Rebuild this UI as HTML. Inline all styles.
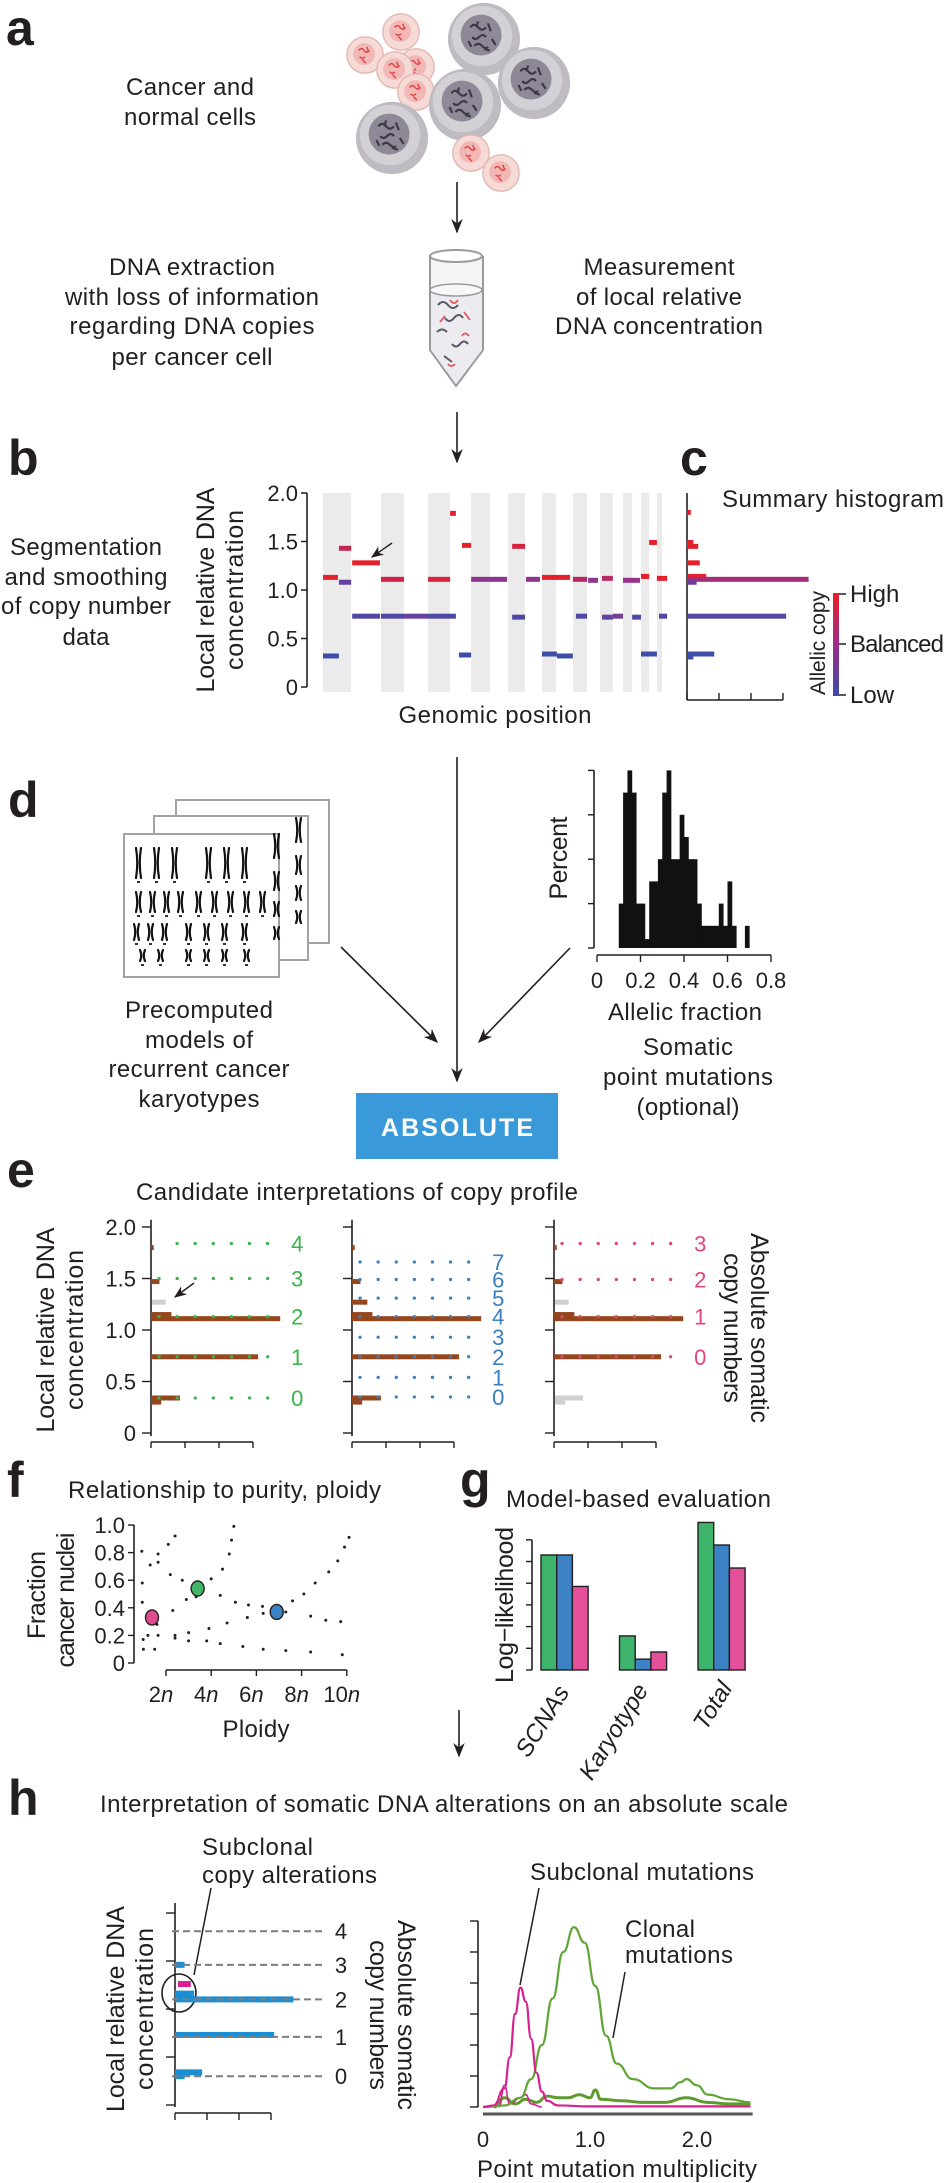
<!DOCTYPE html>
<html><head><meta charset="utf-8">
<style>
html,body{margin:0;padding:0;background:#fff;}
svg{display:block;font-family:"Liberation Sans",Arial,sans-serif;}
text{fill:#231f20;}
.t{font-size:24px;}
.tk{font-size:22px;}
.r{font-size:25px;}
.L{font-size:50px;font-weight:bold;}
</style></head>
<body>
<svg id="fig" width="946" height="2183" viewBox="0 0 946 2183" xmlns="http://www.w3.org/2000/svg">
<defs>
<marker id="ah" viewBox="0 0 10 10" refX="9" refY="5" markerWidth="9" markerHeight="9" orient="auto-start-reverse"><path d="M0,1 L10,5 L0,9 L3,5 z" fill="#231f20"/></marker>
<linearGradient id="cbar" x1="0" y1="0" x2="0" y2="1"><stop offset="0" stop-color="#e8202a"/><stop offset="0.5" stop-color="#a02a88"/><stop offset="1" stop-color="#3a4aa8"/></linearGradient>
<symbol id="bigcell" viewBox="-40 -40 80 80" overflow="visible">
<circle r="37" fill="#bfbbc3"/><circle cx="-2" cy="-3" r="31" fill="#d3d0d6"/><circle cx="-3" cy="-4" r="21" fill="#8f8997"/>
<path d="M-14,-12 q4,-5 8,0 t8,0 M-12,-2 q3,4 7,0 t7,0 M-10,7 q4,-4 8,0 t6,1 M4,-16 l3,8 M-6,-18 l-2,6 M8,0 l4,6 M-16,2 l3,6 M0,10 l6,2" stroke="#3e3846" stroke-width="2.2" fill="none"/>
</symbol>
<symbol id="smallcell" viewBox="-22 -22 44 44" overflow="visible">
<circle r="20" fill="#f6dad6" stroke="#e2b7b2" stroke-width="1.5"/><circle cx="-1" cy="-1" r="12" fill="#f2b8b5"/>
<path d="M-7,-5 q3,-4 6,0 t6,0 M-6,2 q3,3 6,0 M2,-9 l2,6 M-3,5 l4,4" stroke="#e0474c" stroke-width="1.6" fill="none"/>
</symbol>
</defs>

<!-- panel a -->
<text class="L" x="6" y="45">a</text>
<text class="t" x="190" y="95" text-anchor="middle" textLength="128">Cancer and</text>
<text class="t" x="190" y="125" text-anchor="middle" textLength="132">normal cells</text>
<g>
<use href="#smallcell" x="381" y="12" width="40" height="40"/>
<use href="#bigcell" x="445" y="0" width="78" height="78"/>
<use href="#smallcell" x="345" y="35" width="40" height="40"/>
<use href="#smallcell" x="396" y="47" width="40" height="40"/>
<use href="#smallcell" x="375" y="50" width="40" height="40"/>
<use href="#bigcell" x="495" y="44" width="78" height="78"/>
<use href="#smallcell" x="396" y="72" width="40" height="40"/>
<use href="#bigcell" x="426" y="66" width="78" height="78"/>
<use href="#bigcell" x="353" y="99" width="78" height="78"/>
<use href="#smallcell" x="451" y="133" width="40" height="40"/>
<use href="#smallcell" x="481" y="153" width="40" height="40"/>
</g>
<line x1="457" y1="182" x2="457" y2="232" stroke="#231f20" stroke-width="1.6" marker-end="url(#ah)"/>
<g>
<path d="M430,256 L430,350 L456,386 L483,350 L483,256" fill="#f4f4f5" stroke="#9a9a9e" stroke-width="2"/>
<path d="M431,290 L431,350 L456,384 L482,350 L482,290 Z" fill="#ecebef"/>
<ellipse cx="456" cy="290" rx="26" ry="6" fill="#f7f7f8" stroke="#9a9a9e" stroke-width="1.5"/>
<ellipse cx="456" cy="256" rx="26" ry="6" fill="#fff" stroke="#9a9a9e" stroke-width="2"/>
<path d="M438,305 q5,-6 10,0 t10,0 M445,318 q4,6 9,0 t9,0 M437,332 q5,-5 10,0 M452,344 q4,5 8,0 t8,0 M444,356 l8,6" stroke="#5a5566" stroke-width="2" fill="none"/>
<path d="M450,300 q4,6 8,0 M464,312 l6,8 M440,322 l5,-6 M462,336 q3,-5 7,0 M448,364 q3,4 7,0" stroke="#e25a60" stroke-width="1.8" fill="none"/>
</g>
<text class="t" x="192" y="275" text-anchor="middle" textLength="166">DNA extraction</text>
<text class="t" x="192" y="305" text-anchor="middle" textLength="254">with loss of information</text>
<text class="t" x="192" y="334" text-anchor="middle" textLength="245">regarding DNA copies</text>
<text class="t" x="192" y="365" text-anchor="middle" textLength="161">per cancer cell</text>
<text class="t" x="659" y="275" text-anchor="middle" textLength="151">Measurement</text>
<text class="t" x="659" y="305" text-anchor="middle" textLength="166">of local relative</text>
<text class="t" x="659" y="334" text-anchor="middle" textLength="208">DNA concentration</text>
<line x1="457" y1="412" x2="457" y2="462" stroke="#231f20" stroke-width="1.6" marker-end="url(#ah)"/>

<!-- panel b / c -->
<text class="L" x="8" y="475">b</text>
<text class="L" x="680" y="475">c</text>
<text class="t" x="86" y="555" text-anchor="middle" textLength="152">Segmentation</text>
<text class="t" x="86" y="585" text-anchor="middle" textLength="163">and smoothing</text>
<text class="t" x="86" y="614" text-anchor="middle" textLength="170">of copy number</text>
<text class="t" x="86" y="645" text-anchor="middle" textLength="47">data</text>
<text class="r" transform="rotate(-90 214 590)" x="214" y="590" text-anchor="middle" textLength="205">Local relative DNA</text>
<text class="r" transform="rotate(-90 243 590)" x="243" y="590" text-anchor="middle" textLength="160">concentration</text>
<text class="t" x="495" y="723" text-anchor="middle" textLength="193">Genomic position</text>
<text class="t" x="722" y="507" textLength="222">Summary histogram</text>
<g id="gb"></g>
<g id="gc"></g>
<g>
<rect x="833" y="593" width="6" height="103" fill="url(#cbar)"/>
<line x1="839" y1="594" x2="846" y2="594" stroke="#231f20" stroke-width="1.5"/>
<line x1="839" y1="644" x2="846" y2="644" stroke="#231f20" stroke-width="1.5"/>
<line x1="839" y1="695" x2="846" y2="695" stroke="#231f20" stroke-width="1.5"/>
<text class="t" x="850" y="602">High</text>
<text class="t" x="850" y="652" textLength="94">Balanced</text>
<text class="t" x="850" y="703">Low</text>
<text transform="rotate(-90 825 643)" x="825" y="643" text-anchor="middle" font-size="21" textLength="104">Allelic copy</text>
</g>

<!-- panel d -->
<line x1="457" y1="757" x2="457" y2="1081" stroke="#231f20" stroke-width="1.6" marker-end="url(#ah)"/>
<text class="L" x="8" y="817">d</text>
<g id="karyo">
<rect x="176" y="800" width="153" height="143" fill="#fff" stroke="#a3a3a3" stroke-width="2"/>
<rect x="154" y="816" width="154" height="144" fill="#fff" stroke="#a3a3a3" stroke-width="2"/>
<rect x="124" y="834" width="155" height="143" fill="#fff" stroke="#a3a3a3" stroke-width="2"/>
</g>
<text class="t" x="199" y="1018" text-anchor="middle" textLength="148">Precomputed</text>
<text class="t" x="199" y="1048" text-anchor="middle" textLength="108">models of</text>
<text class="t" x="199" y="1077" text-anchor="middle" textLength="181">recurrent cancer</text>
<text class="t" x="199" y="1107" text-anchor="middle" textLength="121">karyotypes</text>
<g id="gd"></g>
<text class="r" transform="rotate(-90 567 858)" x="567" y="858" text-anchor="middle" textLength="83">Percent</text>
<text class="t" x="685" y="1020" text-anchor="middle" textLength="154">Allelic fraction</text>
<text class="t" x="688" y="1055" text-anchor="middle" textLength="90">Somatic</text>
<text class="t" x="688" y="1085" text-anchor="middle" textLength="170">point mutations</text>
<text class="t" x="688" y="1115" text-anchor="middle" textLength="103">(optional)</text>
<line x1="341" y1="947" x2="437" y2="1042" stroke="#231f20" stroke-width="1.6" marker-end="url(#ah)"/>
<line x1="570" y1="948" x2="479" y2="1042" stroke="#231f20" stroke-width="1.6" marker-end="url(#ah)"/>
<g>
<rect x="356" y="1093" width="202" height="66" fill="#3a9ad9"/>
<text x="457" y="1136" text-anchor="middle" font-size="25" font-weight="bold" textLength="152" style="fill:#fff">ABSOLUTE</text>
</g>

<!-- panel e -->
<text class="L" x="7" y="1187">e</text>
<text class="t" x="357" y="1200" text-anchor="middle" textLength="442">Candidate interpretations of copy profile</text>
<text class="r" transform="rotate(-90 54 1330)" x="54" y="1330" text-anchor="middle" textLength="205">Local relative DNA</text>
<text class="r" transform="rotate(-90 83 1330)" x="83" y="1330" text-anchor="middle" textLength="160">concentration</text>
<text class="r" transform="rotate(90 751 1328)" x="751" y="1328" text-anchor="middle" textLength="190">Absolute somatic</text>
<text class="r" transform="rotate(90 724 1328)" x="724" y="1328" text-anchor="middle" textLength="150">copy numbers</text>
<g id="ge"></g>

<!-- panel f -->
<text class="L" x="7" y="1497">f</text>
<text class="t" x="68" y="1498" textLength="313">Relationship to purity, ploidy</text>
<text class="r" transform="rotate(-90 45 1595)" x="45" y="1595" text-anchor="middle" textLength="88">Fraction</text>
<text class="r" transform="rotate(-90 74 1600)" x="74" y="1600" text-anchor="middle" textLength="135">cancer nuclei</text>
<text class="t" x="256" y="1737" text-anchor="middle" textLength="67">Ploidy</text>
<g id="gf"></g>

<!-- panel g -->
<text class="L" x="460" y="1497">g</text>
<text class="t" x="506" y="1507" textLength="265">Model-based evaluation</text>
<text class="r" transform="rotate(-90 513 1605)" x="513" y="1605" text-anchor="middle" textLength="156">Log−likelihood</text>
<g id="gg"></g>
<line x1="459" y1="1710" x2="459" y2="1756" stroke="#231f20" stroke-width="1.6" marker-end="url(#ah)"/>

<!-- panel h -->
<text class="L" x="8" y="1815">h</text>
<text class="t" x="100" y="1812" textLength="688">Interpretation of somatic DNA alterations on an absolute scale</text>
<text class="t" x="202" y="1855" textLength="111">Subclonal</text>
<text class="t" x="202" y="1883" textLength="175">copy alterations</text>
<line x1="211" y1="1888" x2="194" y2="1975" stroke="#231f20" stroke-width="1.5"/>
<ellipse cx="179" cy="1993" rx="17" ry="19" fill="none" stroke="#231f20" stroke-width="1.6"/>
<text class="r" transform="rotate(-90 124 2009)" x="124" y="2009" text-anchor="middle" textLength="206">Local relative DNA</text>
<text class="r" transform="rotate(-90 153 2009)" x="153" y="2009" text-anchor="middle" textLength="162">concentration</text>
<text class="r" transform="rotate(90 398 2015)" x="398" y="2015" text-anchor="middle" textLength="190">Absolute somatic</text>
<text class="r" transform="rotate(90 370 2015)" x="370" y="2015" text-anchor="middle" textLength="150">copy numbers</text>
<g id="gh1"></g>
<g id="gh2"></g>
<text class="t" x="530" y="1880" textLength="224">Subclonal mutations</text>
<line x1="539" y1="1888" x2="520" y2="1985" stroke="#231f20" stroke-width="1.5"/>
<text class="t" x="625" y="1937" textLength="70">Clonal</text>
<text class="t" x="625" y="1963" textLength="108">mutations</text>
<line x1="625" y1="1972" x2="613" y2="2038" stroke="#231f20" stroke-width="1.5"/>
<text class="t" x="617" y="2177" text-anchor="middle" textLength="280">Point mutation multiplicity</text>
</svg>

<script>
const NS='http://www.w3.org/2000/svg';
function mk(tag,attrs,parent){const e=document.createElementNS(NS,tag);for(const k in attrs)e.setAttribute(k,attrs[k]);parent.appendChild(e);return e;}

/* ---------- panel b data ---------- */
const bBandStart=[0,17.1,31,43.7,54.6,64.6,73.7,81.7,88.5,93.8,98.5];
const bBandEnd=[8.3,23.9,37.5,49.3,59.6,68.7,77.9,85.5,91.2,96.2,100];
const bSegStart=[0,4.7,4.7,8.6,17.1,31.0,37.5,41.0,43.7,55.8,59.9,64.6,73.7,78.2,82.3,88.5,93.8,98.5,96.2,
 8.6,17.1,23.9,31.0,55.8,74.6,82.3,85.5,91.2,99.1,0,40.1,64.6,69.0,93.8];
const bSegEnd=[4.4,8.3,8.3,16.8,23.9,37.5,39.2,43.7,54.3,59.6,64.0,72.9,77.9,81.1,85.5,93.5,96.2,101.5,98.5,
 16.8,23.9,31.0,39.2,59.6,77.9,85.5,88.5,93.8,101.5,4.7,43.7,69.0,73.7,98.5];
const bSegValue=[1.13,1.08,1.43,1.28,1.11,1.11,1.79,1.46,1.11,1.45,1.11,1.13,1.11,1.10,1.12,1.10,1.14,1.12,1.49,
 0.73,0.73,0.73,0.73,0.72,0.73,0.72,0.73,0.72,0.73,0.32,0.33,0.34,0.32,0.34];
const bSegAllele=[1,0.2,0.8,1,0.85,0.9,1,1,0.45,0.9,0.45,1,0.7,0.45,0.7,0.5,1,1,1,
 0.1,0.1,0.25,0.1,0.1,0.1,0.2,0.3,0.1,0.15,0,0,0,0,0];
const bTicks=[0,0.5,1.0,1.5,2.0];
const bTickLabels=['0','0.5','1.0','1.5','2.0'];
/* ---------- panel c data ---------- */
const cLevels=[1.80,1.49,1.45,1.28,1.14,1.11,1.08,0.73,0.34,0.31];
const cCounts=[0.12,0.2,0.35,0.4,0.6,3.8,0.3,3.1,0.85,0.2];
const cAllele=[1,1,1,1,1,0.6,0.3,0.12,0,0];
/* ---------- panel d data ---------- */
const dBinStart=[0.10,0.12,0.14,0.16,0.18,0.20,0.22,0.24,0.26,0.28,0.30,0.32,0.34,0.36,0.38,0.40,0.42,0.44,0.46,0.48,0.50,0.52,0.54,0.56,0.58,0.60,0.62,0.64,0.66,0.68];
const dPercent=[2,7,8,7,2,2,0.4,3,3,4,7,8,4,4,6,5,4,4,2,1,1,1,1,2,1,3,1,0,0,1];
const dXTicks=[0,0.2,0.4,0.6,0.8];
const dXTickLabels=['0','0.2','0.4','0.6','0.8'];
const dYTicks=[0,2,4,6,8];
/* ---------- panel e data ---------- */
const eHistLevels=[0.30,0.34,0.74,1.11,1.15,1.47,1.80];
const eHistCounts=[0.3,0.85,3.15,3.8,0.6,0.25,0.08];
const eP1Levels=[0.34,0.74,1.13,1.50,1.84];
const eP2Levels=[0.35,0.54,0.74,0.93,1.13,1.31,1.49,1.66];
const eP3Levels=[0.74,1.13,1.49,1.84];
const eP1Gray=[1.27];const eP1GrayCounts=[0.4];
const eP2Extra=[1.27];const eP2ExtraCounts=[0.45];
const eP3Gray=[1.27,0.34,0.30];const eP3GrayCounts=[0.4,0.82,0.3];
/* ---------- panel f data ---------- */
const fCurve1=[[1.0,0.10],[1.2,0.2],[1.6,0.28],[2.3,0.38],[2.9,0.46],[3.5,0.54],[4.0,0.61],[4.5,0.68],[4.8,0.79],[4.9,0.89],[5.0,0.99]];
const fCurve2=[[0.93,0.81],[1.65,0.73],[2.19,0.64],[2.72,0.60],[3.33,0.48],[4.4,0.49],[5.07,0.44],[5.65,0.42],[6.27,0.41],[7.3,0.37],[8.4,0.34],[9.07,0.31],[9.73,0.30]];
const fCurve3=[[1.5,0.10],[2.4,0.2],[3.0,0.22],[3.9,0.25],[4.7,0.29],[5.6,0.33],[6.3,0.36],[7.0,0.40],[7.6,0.45],[8.1,0.5],[8.6,0.58],[9.2,0.66],[9.6,0.74],[9.9,0.84],[10.1,0.91]];
const fCurve4=[[0.99,0.17],[1.65,0.2],[2.4,0.18],[3.0,0.16],[3.8,0.16],[4.4,0.14],[5.4,0.12],[6.3,0.10],[7.3,0.09],[8.4,0.08],[9.8,0.06]];
const fCurve5=[[0.95,0.58],[0.95,0.44],[1.3,0.71],[1.65,0.79],[2.1,0.86],[2.4,0.92]];
const fPloidy=[1.38,3.4,6.9];
const fPurity=[0.33,0.54,0.37];
const fColors=['#e04a8e','#43b66a','#3c82c4'];
const fYTicks=[0,0.2,0.4,0.6,0.8,1.0];
const fYTickLabels=['0','0.2','0.4','0.6','0.8','1.0'];
const fXTicks=[2,4,6,8,10];
/* ---------- panel g data ---------- */
const gGroups=['SCNAs','Karyotype','Total'];
const gGreen=[5.3,1.57,6.8];
const gBlue=[5.3,0.5,5.76];
const gPink=[3.85,0.83,4.7];
const gTicks=[0,1,2,3,4,5,6];
/* ---------- panel h data ---------- */
const hCopyLevels=[0.30,0.71,1.10,1.46,1.81];
const hCopyLabels=['0','1','2','3','4'];
const hBarLevels=[1.10,1.16,0.73,0.34,0.30,1.46];
const hBarCounts=[3.7,0.6,3.1,0.85,0.3,0.3];
const hSubLevels=[1.26];
const hSubCounts=[0.4];
const hGreenX=[0,0.2,0.35,0.45,0.55,0.65,0.75,0.85,0.95,1.05,1.15,1.25,1.4,1.6,1.75,1.85,1.9,2.0,2.1,2.3,2.5];
const hGreenY=[0,0.05,0.3,0.9,2.0,3.5,5.0,5.8,5.3,3.9,2.3,1.4,0.9,0.6,0.6,0.8,0.9,0.7,0.4,0.25,0.15];
const hPinkX=[0,0.1,0.2,0.25,0.3,0.35,0.4,0.45,0.5,0.55,0.6,0.7,1.0,2.5];
const hPinkY=[0,0.05,0.6,1.6,3.0,3.85,3.4,2.2,1.1,0.5,0.2,0.05,0.02,0.02];
const hResidX=[0.1,0.2,0.3,0.4,0.5,0.6,0.7,0.8,0.9,1.0,1.05,1.1,1.3,1.5,1.7,1.9,2.1,2.3,2.5];
const hResidY=[0,0.3,0.1,0.25,0.15,0.35,0.3,0.3,0.4,0.3,0.55,0.25,0.2,0.15,0.15,0.3,0.15,0.1,0.1];
const hPinkSmallX=[0.15,0.2,0.25,0.35,0.4,0.45,0.55];
const hPinkSmallY=[0,0.7,0.1,0.3,0.4,0.1,0];
const hXTicks=[0,1,2];
const hXTickLabels=['0','1.0','2.0'];
const hYTicks=[0,1,2,3,4,5,6];

function alleleColor(a){
  const blue=[60,78,170],mid=[150,50,140],red=[230,32,42];
  let c0,c1,t; if(a<0.5){c0=blue;c1=mid;t=a/0.5;}else{c0=mid;c1=red;t=(a-0.5)/0.5;}
  return 'rgb('+c0.map((v,i)=>Math.round(v+(c1[i]-v)*t)).join(',')+')';
}
const INK='#231f20';

/* ---------- draw b ---------- */
(function(){
  const g=document.getElementById('gb');
  const bx=p=>323+p*3.39, by=v=>687-v*97;
  for(let i=0;i<bBandStart.length;i++){
    const r=mk('rect',{x:bx(bBandStart[i]),y:by(2.0),width:bx(bBandEnd[i])-bx(bBandStart[i]),height:by(-0.05)-by(2.0),fill:'#ebebec'},g);
    
    
  }
  const ax=mk('line',{x1:307,y1:by(2.0),x2:307,y2:by(0),stroke:INK,'stroke-width':1.6},g);
  
  
  for(let i=0;i<bTicks.length;i++){
    mk('line',{x1:301,y1:by(bTicks[i]),x2:307,y2:by(bTicks[i]),stroke:INK,'stroke-width':1.5},g);
    const t=mk('text',{x:298,y:by(bTicks[i])+8,'text-anchor':'end','class':'tk'},g);
    t.textContent=bTickLabels[i];
    
    
  }
  for(let i=0;i<bSegStart.length;i++){
    const r=mk('rect',{x:bx(bSegStart[i]),y:by(bSegValue[i])-2.5,width:bx(bSegEnd[i])-bx(bSegStart[i]),height:5,fill:alleleColor(bSegAllele[i])},g);
    
    
  }
  const ar=mk('line',{x1:392,y1:543,x2:372,y2:557,stroke:INK,'stroke-width':1.4,'marker-end':'url(#ah)'},g);
  
  
})();

/* ---------- draw c ---------- */
(function(){
  const g=document.getElementById('gc');
  const cx=v=>687+v*32, cy=v=>687-v*97;
  const ya=mk('line',{x1:687,y1:493,x2:687,y2:700,stroke:INK,'stroke-width':1.6},g);
  
  
  const xa=mk('line',{x1:687,y1:700,x2:cx(3),y2:700,stroke:INK,'stroke-width':1.6},g);
  
  
  for(let k=0;k<=3;k++) mk('line',{x1:cx(k),y1:700,x2:cx(k),y2:693,stroke:INK,'stroke-width':1.4},g);
  for(let i=0;i<cLevels.length;i++){
    const r=mk('rect',{x:687,y:cy(cLevels[i])-2.5,width:cx(cCounts[i])-687,height:5,fill:alleleColor(cAllele[i])},g);
    
    
  }
})();

/* ---------- karyotype marks (decorative) ---------- */
(function(){
  const g=document.getElementById('karyo');
  function pair(x,y,h){
    mk('path',{d:'M'+x+','+y+' q2.5,'+(h/2)+' 0,'+h+' M'+(x+5)+','+y+' q-2.5,'+(h/2)+' 0,'+h,stroke:'#111','stroke-width':2.2,fill:'none','stroke-linecap':'round'},g);
  }
  // back sheets: visible right strip only
  [[284,806],[262,822]].forEach(s=>{
    pair(s[0]+12,s[1]+12,24); pair(s[0]+12,s[1]+50,18); pair(s[0]+12,s[1]+80,14); pair(s[0]+12,s[1]+105,12);
  });
  const x0=124,y0=834;
  const rows=[[14,30,[12,30,48,82,100,118]],[58,20,[12,26,40,54,72,88,104,120,136]],[90,16,[10,24,38,62,80,98,118]],[116,11,[16,34,62,80,98,120]]];
  rows.forEach(rw=>{rw[2].forEach(dx=>pair(x0+dx,y0+rw[0],rw[1]));});
  // small number labels under chromosomes (tiny dashes)
  rows.forEach(rw=>{rw[2].forEach(dx=>mk('rect',{x:x0+dx+1,y:y0+rw[0]+rw[1]+3,width:3,height:2,fill:'#333'},g));});
})();

/* ---------- draw d ---------- */
(function(){
  const g=document.getElementById('gd');
  const dx=f=>597+f*217.5, dy=v=>948-v*22.2;
  const ya=mk('line',{x1:594,y1:dy(8),x2:594,y2:dy(0),stroke:INK,'stroke-width':1.6},g);
  
  
  dYTicks.forEach(v=>mk('line',{x1:588,y1:dy(v),x2:594,y2:dy(v),stroke:INK,'stroke-width':1.4},g));
  const xa=mk('line',{x1:dx(0),y1:955,x2:dx(0.8),y2:955,stroke:INK,'stroke-width':1.6},g);
  
  
  for(let i=0;i<dXTicks.length;i++){
    mk('line',{x1:dx(dXTicks[i]),y1:955,x2:dx(dXTicks[i]),y2:962,stroke:INK,'stroke-width':1.4},g);
    const t=mk('text',{x:dx(dXTicks[i]),y:988,'text-anchor':'middle','class':'tk'},g);
    t.textContent=dXTickLabels[i];
    
    
  }
  for(let i=0;i<dBinStart.length;i++){
    if(dPercent[i]<=0) continue;
    const r=mk('rect',{x:dx(dBinStart[i]),y:dy(dPercent[i]),width:dx(0.02)-dx(0)+0.4,height:dy(0)-dy(dPercent[i]),fill:'#111'},g);
    
    
  }
})();

/* ---------- draw e ---------- */
(function(){
  const g=document.getElementById('ge');
  const ey=v=>1433-v*103;
  const panels=[{x0:151,levels:eP1Levels,col:'#3cb44b',gray:eP1Gray,grayC:eP1GrayCounts},
                {x0:352,levels:eP2Levels,col:'#3a7fc1',gray:[],grayC:[]},
                {x0:554,levels:eP3Levels,col:'#e0457f',gray:eP3Gray,grayC:eP3GrayCounts}];
  panels.forEach((p,pi)=>{
    const ex=c=>p.x0+c*34;
    const ya=mk('line',{x1:p.x0,y1:ey(2.07),x2:p.x0,y2:ey(-0.03),stroke:INK,'stroke-width':1.6},g);
    
    
    [0,0.5,1,1.5,2].forEach(v=>mk('line',{x1:p.x0-9,y1:ey(v),x2:p.x0,y2:ey(v),stroke:INK,'stroke-width':1.4},g));
    const xa=mk('line',{x1:p.x0,y1:1442,x2:ex(3),y2:1442,stroke:INK,'stroke-width':1.6},g);
    
    
    [0,1,2,3].forEach(k=>mk('line',{x1:ex(k),y1:1442,x2:ex(k),y2:1448,stroke:INK,'stroke-width':1.4},g));
    if(pi===0){
      ['0','0.5','1.0','1.5','2.0'].forEach((s,k)=>{
        const t=mk('text',{x:136,y:ey(k*0.5)+8,'text-anchor':'end','class':'tk'},g);
        t.textContent=s;
        
        
      });
    }
    for(let i=0;i<eHistLevels.length;i++){
      if(pi===2 && eHistLevels[i]<0.5) continue;
      const r=mk('rect',{x:p.x0,y:ey(eHistLevels[i])-2.5,width:ex(eHistCounts[i])-p.x0,height:5,fill:'#94461c'},g);
      
      
    }
    if(pi===1){
      for(let i=0;i<eP2Extra.length;i++){
        const r=mk('rect',{x:p.x0,y:ey(eP2Extra[i])-2.5,width:ex(eP2ExtraCounts[i])-p.x0,height:5,fill:'#94461c'},g);
        
        
      }
    }
    for(let i=0;i<p.gray.length;i++){
      const r=mk('rect',{x:p.x0+1,y:ey(p.gray[i])-2.5,width:ex(p.grayC[i])-p.x0,height:5,fill:'#cfcfcf'},g);
      
      
    }
    for(let n=0;n<p.levels.length;n++){
      const yy=ey(p.levels[n]);
      const startX=(pi===0&&n===4)?p.x0+26:p.x0+8;
      const ln=mk('line',{x1:startX,y1:yy,x2:ex(3.92),y2:yy,stroke:p.col,'stroke-width':3.2,'stroke-linecap':'round','stroke-dasharray':'0.1 18'},g);
      
      
      const t=mk('text',{x:ex(4.3),y:yy+8,'class':'tk','text-anchor':'middle'},g);
      t.setAttribute('style','fill:'+p.col);
      t.textContent=String(n);
      
      
    }
  });
  const ar=mk('line',{x1:194,y1:1283,x2:175,y2:1297,stroke:INK,'stroke-width':1.4,'marker-end':'url(#ah)'},g);
  
  
})();

/* ---------- draw f ---------- */
(function(){
  const g=document.getElementById('gf');
  const fx=p=>166+(p-2)*22.6, fy=u=>1663-u*138;
  const ya=mk('line',{x1:134,y1:fy(1.0),x2:134,y2:fy(0),stroke:INK,'stroke-width':1.6},g);
  
  
  for(let i=0;i<fYTicks.length;i++){
    mk('line',{x1:128,y1:fy(fYTicks[i]),x2:134,y2:fy(fYTicks[i]),stroke:INK,'stroke-width':1.4},g);
    const t=mk('text',{x:125,y:fy(fYTicks[i])+8,'text-anchor':'end','class':'tk'},g);
    t.textContent=fYTickLabels[i];
    
    
  }
  const xa=mk('line',{x1:fx(2),y1:1670,x2:fx(10),y2:1670,stroke:INK,'stroke-width':1.6},g);
  
  
  fXTicks.forEach(p=>{
    mk('line',{x1:fx(p),y1:1670,x2:fx(p),y2:1676,stroke:INK,'stroke-width':1.4},g);
    const t=mk('text',{x:fx(p)-5,y:1702,'text-anchor':'middle','class':'tk'},g);
    t.textContent=String(p);
    const ts=mk('tspan',{'font-style':'italic'},t);
    ts.textContent='n';
    
    
  });
  [fCurve1,fCurve2,fCurve3,fCurve4,fCurve5].forEach(c=>{
    c.forEach(pt=>{
      const d=mk('circle',{cx:fx(pt[0]),cy:fy(pt[1]),r:1.5,fill:INK},g);
      
      
    });
  });
  for(let i=0;i<fPloidy.length;i++){
    const c=mk('ellipse',{cx:fx(fPloidy[i]),cy:fy(fPurity[i]),rx:6.5,ry:7.5,fill:fColors[i],stroke:INK,'stroke-width':1.4},g);
    
    
  }
})();

/* ---------- draw g ---------- */
(function(){
  const g=document.getElementById('gg');
  const gy=v=>1670-v*21.7;
  const ya=mk('line',{x1:532,y1:gy(6),x2:532,y2:gy(0),stroke:INK,'stroke-width':1.6},g);
  
  
  gTicks.forEach(v=>mk('line',{x1:526,y1:gy(v),x2:532,y2:gy(v),stroke:INK,'stroke-width':1.4},g));
  const bw=15.7;
  const labelPos=[[570,1692],[649,1690],[733,1688]];
  for(let i=0;i<gGroups.length;i++){
    const x0=541+i*78.5;
    [[gGreen,'#3db36b'],[gBlue,'#3c82c4'],[gPink,'#e4509a']].forEach((s,j)=>{
      const r=mk('rect',{x:x0+j*bw,y:gy(s[0][i]),width:bw,height:gy(0)-gy(s[0][i]),fill:s[1],stroke:INK,'stroke-width':1.4},g);
      
      
    });
    const t=mk('text',{x:labelPos[i][0],y:labelPos[i][1],'text-anchor':'end','class':'t','font-style':'italic',transform:'rotate(-58 '+labelPos[i][0]+' '+labelPos[i][1]+')'},g);
    t.textContent=gGroups[i];
    
    
  }
})();

/* ---------- draw h left ---------- */
(function(){
  const g=document.getElementById('gh1');
  const hx=c=>175+c*32, hy=v=>2105-v*96;
  const ya=mk('line',{x1:175,y1:1903,x2:175,y2:2107,stroke:INK,'stroke-width':1.6},g);
  
  
  [0,0.5,1,1.5,2].forEach(v=>mk('line',{x1:166,y1:hy(v),x2:175,y2:hy(v),stroke:INK,'stroke-width':1.4},g));
  const xa=mk('line',{x1:175,y1:2113,x2:hx(3),y2:2113,stroke:INK,'stroke-width':1.6},g);
  
  
  [0,1,2,3].forEach(k=>mk('line',{x1:hx(k),y1:2113,x2:hx(k),y2:2120,stroke:INK,'stroke-width':1.4},g));
  for(let i=0;i<hBarLevels.length;i++){
    const r=mk('rect',{x:175,y:hy(hBarLevels[i])-3,width:hx(hBarCounts[i])-175,height:6,fill:'#1b8fd6'},g);
    
    
  }
  for(let i=0;i<hSubLevels.length;i++){
    const r=mk('rect',{x:178,y:hy(hSubLevels[i])-3,width:hx(hSubCounts[i])-175,height:6,fill:'#d6218e'},g);
    
    
  }
  for(let i=0;i<hCopyLevels.length;i++){
    const yy=hy(hCopyLevels[i]);
    const ln=mk('line',{x1:172,y1:yy,x2:326,y2:yy,stroke:'#7d7d7d','stroke-width':2,'stroke-dasharray':'7 4'},g);
    
    
    const t=mk('text',{x:341,y:yy+8,'text-anchor':'middle','class':'tk'},g);
    t.textContent=hCopyLabels[i];
    
    
  }
})();

/* ---------- draw h right ---------- */
(function(){
  const g=document.getElementById('gh2');
  const mx=m=>483+m*107, my=d=>2107-d*31;
  const ya=mk('line',{x1:478,y1:my(6),x2:478,y2:my(0),stroke:INK,'stroke-width':1.6},g);
  
  
  hYTicks.forEach(v=>mk('line',{x1:470,y1:my(v),x2:478,y2:my(v),stroke:INK,'stroke-width':1.4},g));
  const xa=mk('line',{x1:mx(0),y1:2114,x2:mx(2.52),y2:2114,stroke:'#555','stroke-width':3},g);
  
  
  for(let i=0;i<hXTicks.length;i++){
    const t=mk('text',{x:mx(hXTicks[i]),y:2147,'text-anchor':'middle','class':'tk'},g);
    t.textContent=hXTickLabels[i];
    
    
  }
  function curve(X,Y,col,w){
    const pts=X.map((x,i)=>[mx(x),my(Y[i])]);
    let d='M'+pts[0][0]+','+pts[0][1];
    for(let i=1;i<pts.length;i++){
      const p0=pts[i-1],p1=pts[i];const cxm=(p0[0]+p1[0])/2;
      d+=' C'+cxm+','+p0[1]+' '+cxm+','+p1[1]+' '+p1[0]+','+p1[1];
    }
    return mk('path',{d:d,fill:'none',stroke:col,'stroke-width':w},g);
  }
  const r1=curve(hResidX,hResidY,'#5e9a2e',3);
  
  
  const r2=curve(hPinkSmallX,hPinkSmallY,'#d6218e',1.6);
  
  
  const gc=curve(hGreenX,hGreenY,'#5fa637',2.2);
  
  
  const pc=curve(hPinkX,hPinkY,'#d6218e',2.2);
  
  
})();
</script>
</body></html>
